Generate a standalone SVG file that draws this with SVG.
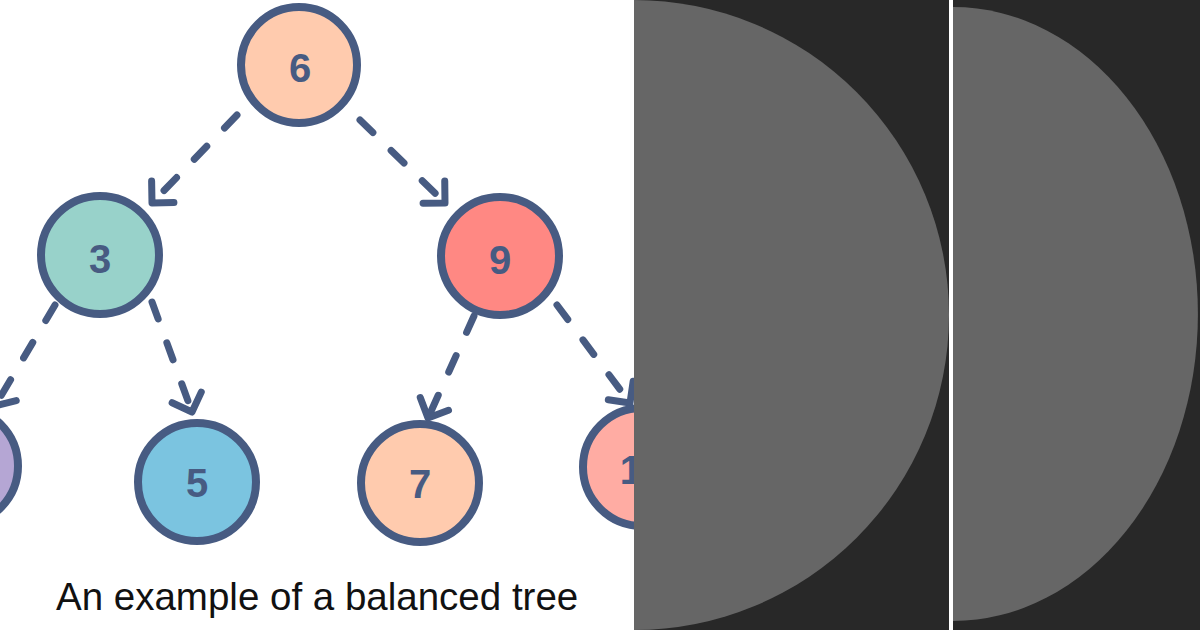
<svg xmlns="http://www.w3.org/2000/svg" width="1200" height="630" viewBox="0 0 1200 630">
  <style>
    .node { stroke: #475b82; stroke-width: 8; }
    .num { font-family: "Liberation Sans", Arial, sans-serif; font-weight: bold; font-size: 40px; fill: #475b82; text-anchor: middle; }
    .edge { fill: none; stroke: #475b82; stroke-width: 7; stroke-linecap: round; stroke-dasharray: 18 25.5; }
    .caption { font-family: "Liberation Sans", Arial, sans-serif; font-size: 38.5px; fill: #111111; }
    .panel { fill: #282828; }
    .disc { fill: #666666; }
  </style>
  <defs>
    <marker id="arrow" markerUnits="userSpaceOnUse" markerWidth="40" markerHeight="40" viewBox="-20 -20 40 40" refX="0" refY="0" orient="auto" overflow="visible">
      <path d="M -15.5 -15.5 L 0 0 L -15.5 15.5" fill="none" stroke="#475b82" stroke-width="7" stroke-linecap="round" stroke-linejoin="round"/>
    </marker>
  </defs>

  <rect x="0" y="0" width="1200" height="630" fill="#ffffff"/>

  <g id="connectors">
    <path class="edge" d="M 237 115 L 152 203" marker-end="url(#arrow)"/>
    <path class="edge" d="M 360 120 L 445 203" marker-end="url(#arrow)"/>
    <path class="edge" d="M 55 305 L -5 406" marker-end="url(#arrow)"/>
    <path class="edge" d="M 152 302 L 192 412" marker-end="url(#arrow)"/>
    <path class="edge" d="M 474 316 L 428 418" marker-end="url(#arrow)"/>
    <path class="edge" d="M 557 305 L 630 403" marker-end="url(#arrow)"/>
  </g>

  <g id="node-6">
    <circle class="node" cx="299" cy="65" r="58" fill="#ffcbae"/>
    <text class="num" x="300" y="82">6</text>
  </g>
  <g id="node-3">
    <circle class="node" cx="100" cy="255" r="59" fill="#98d2ca"/>
    <text class="num" x="100" y="273">3</text>
  </g>
  <g id="node-9">
    <circle class="node" cx="500" cy="256" r="59" fill="#ff8883"/>
    <text class="num" x="500" y="274">9</text>
  </g>
  <g id="node-left">
    <circle class="node" cx="-41" cy="466" r="59" fill="#b5a6d4"/>
  </g>
  <g id="node-5">
    <circle class="node" cx="197" cy="482" r="59" fill="#7bc4e0"/>
    <text class="num" x="197" y="497">5</text>
  </g>
  <g id="node-7">
    <circle class="node" cx="420" cy="483" r="59" fill="#ffcbae"/>
    <text class="num" x="420" y="498">7</text>
  </g>
  <g id="node-10">
    <circle class="node" cx="642" cy="467" r="59" fill="#ffaca3"/>
    <text class="num" x="642" y="484">10</text>
  </g>

  <text class="caption" x="56" y="610">An example of a balanced tree</text>

  <rect class="panel" x="634" y="0" width="315" height="630"/>
  <path class="disc" d="M 634 0 A 315 315 0 0 1 634 630 Z"/>
  <rect class="panel" x="953" y="0" width="247" height="630"/>
  <path class="disc" d="M 953 7 A 245 307 0 0 1 953 621 Z"/>
</svg>
